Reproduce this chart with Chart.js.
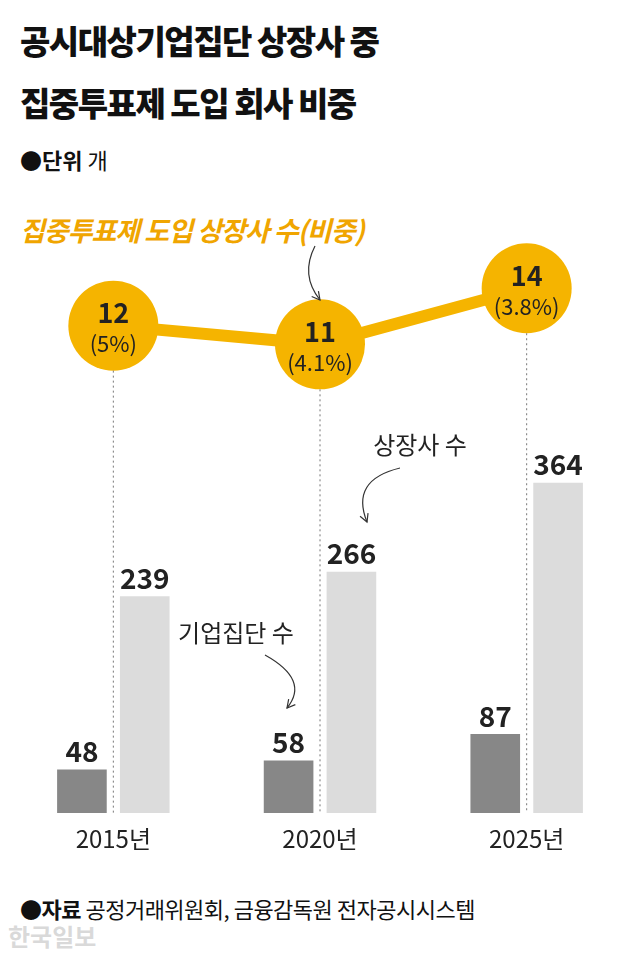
<!DOCTYPE html>
<html><head><meta charset="utf-8">
<script src="https://cdn.jsdelivr.net/npm/chart.js@4"></script>
<style>
body{margin:0;width:640px;height:955px;background:#fff;overflow:hidden;position:relative;font-family:"Noto Sans CJK KR",sans-serif;color:#111}
.t{position:absolute;white-space:nowrap}
#c{position:absolute;left:-35px;top:0;width:710px;height:955px}
</style></head><body>
<div class="t" style="left:20px;top:16px;font-size:33px;font-weight:900;letter-spacing:-1.5px">공시대상기업집단 상장사 중</div>
<div class="t" style="left:20px;top:78px;font-size:33px;font-weight:900;letter-spacing:-1.5px">집중투표제 도입 회사 비중</div>
<div class="t" style="left:20px;top:143px;font-size:22px"><b>●단위</b> 개</div>
<div class="t" style="left:20px;top:210px;font-size:27px;font-weight:700;font-style:italic;color:#f0a500;letter-spacing:-1px">집중투표제 도입 상장사 수(비중)</div>
<div class="t" style="left:20px;top:892px;font-size:22px;letter-spacing:-0.5px"><b>●자료</b> 공정거래위원회, 금융감독원 전자공시시스템</div>
<div class="t" style="left:8px;top:918px;font-size:24px;font-weight:700;color:rgba(180,180,180,0.5)">한국일보</div>
<canvas id="c" width="710" height="955"></canvas>
<script>
let years = ['2015년', '2020년', '2025년'];
let groups = [48, 58, 87];        // 기업집단 수
let listed = [239, 266, 364];     // 상장사 수
let cumul = [12, 11, 14];         // 집중투표제 도입 상장사 수
let ratio = ['5%', '4.1%', '3.8%'];

let gold = '#f5b400';

let overlay = {
    id: 'overlay',
    afterDatasetsDraw(chart) {
        let ctx = chart.ctx;
        let yb = chart.scales.y.getPixelForValue(0);
        let lineMeta = chart.getDatasetMeta(2);
        ctx.save();
        // dotted guides
        ctx.strokeStyle = '#777'; ctx.lineWidth = 1; ctx.setLineDash([2, 3]);
        lineMeta.data.forEach(p => {
            ctx.beginPath(); ctx.moveTo(p.x, p.y + 45); ctx.lineTo(p.x, yb); ctx.stroke();
        });
        ctx.setLineDash([]);
        // circle labels
        ctx.fillStyle = '#222'; ctx.textAlign = 'center'; ctx.textBaseline = 'middle';
        lineMeta.data.forEach((p, i) => {
            ctx.font = '700 27px "Noto Sans CJK KR"';
            ctx.fillText(cumul[i], p.x, p.y - 13);
            ctx.font = '22px "Noto Sans CJK KR"';
            ctx.fillText('(' + ratio[i] + ')', p.x, p.y + 18);
        });
        // bar values
        ctx.font = '700 28px "Noto Sans CJK KR"'; ctx.textBaseline = 'bottom';
        [0, 1].forEach(d => {
            chart.getDatasetMeta(d).data.forEach((b, i) => {
                ctx.fillText(chart.data.datasets[d].data[i], b.x, b.y - 4);
            });
        });
        // year labels
        ctx.font = '24px "Noto Sans CJK KR"'; ctx.textBaseline = 'top';
        chart.data.labels.forEach((l, i) => {
            ctx.fillText(l, chart.scales.x.getPixelForValue(i), yb + 14);
        });
        // annotations (canvas is shifted 35px left)
        ctx.font = '24px "Noto Sans CJK KR"'; ctx.textBaseline = 'middle';
        ctx.fillText('상장사 수', 455, 445);
        ctx.fillText('기업집단 수', 271, 633);
        ctx.strokeStyle = '#333'; ctx.lineWidth = 1.2;
        function arrow(x0, y0, cx, cy, x1, y1) {
            ctx.beginPath(); ctx.moveTo(x0, y0); ctx.quadraticCurveTo(cx, cy, x1, y1); ctx.stroke();
            let a = Math.atan2(y1 - cy, x1 - cx);
            ctx.beginPath();
            ctx.moveTo(x1 - 9 * Math.cos(a - 0.5), y1 - 9 * Math.sin(a - 0.5));
            ctx.lineTo(x1, y1);
            ctx.lineTo(x1 - 9 * Math.cos(a + 0.5), y1 - 9 * Math.sin(a + 0.5));
            ctx.stroke();
        }
        arrow(435, 468, 385, 480, 402, 522);
        arrow(300, 655, 345, 680, 322, 708);
        arrow(350, 246, 335, 275, 355, 300);
        ctx.restore();
    }
};

new Chart(document.getElementById('c').getContext('2d'), {
    type: 'bar',
    data: {
        labels: years,
        datasets: [
            { label: '기업집단 수', data: groups, backgroundColor: '#878787', order: 2 },
            { label: '상장사 수', data: listed, backgroundColor: '#dcdcdc', order: 2 },
            { type: 'line', label: '집중투표제', data: cumul, yAxisID: 'y2', order: 1,
              borderColor: gold, borderWidth: 12, pointRadius: 45, pointHoverRadius: 45,
              pointBackgroundColor: gold, pointBorderWidth: 0 }
        ]
    },
    options: {
        responsive: false,
        animation: false,
        devicePixelRatio: 1,
        layout: { padding: { top: 140, bottom: 142, left: 0, right: 0 } },
        datasets: { bar: { categoryPercentage: 0.608, barPercentage: 0.79 } },
        scales: {
            x: { display: false },
            y: { display: false, min: 0, max: 742 },
            y2: { display: false, min: -14.07, max: 21.93 }
        },
        plugins: { legend: { display: false }, tooltip: { enabled: false } }
    },
    plugins: [overlay]
});
</script>
</body></html>
